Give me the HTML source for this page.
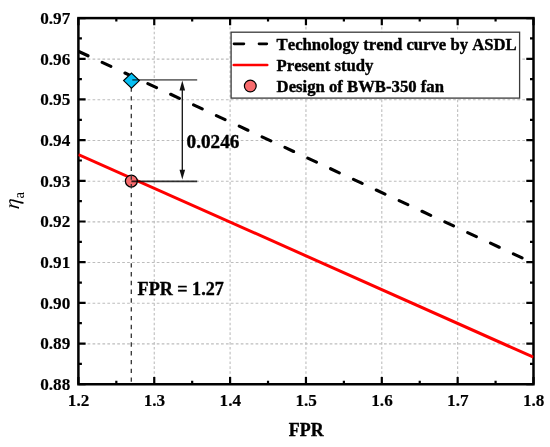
<!DOCTYPE html><html><head><meta charset="utf-8"><style>html,body{margin:0;padding:0;background:#fff;width:550px;height:447px;overflow:hidden}svg{display:block}</style></head><body><svg width="550" height="447" viewBox="0 0 550 447">
<rect width="550" height="447" fill="#fff"/>
<g stroke="#bdbdbd" stroke-width="1.1" stroke-dasharray="2.7 2.24" fill="none"><line x1="154.25" y1="18.10" x2="154.25" y2="384.25" stroke-dashoffset="1.0" stroke-dasharray="2.65 2.2"/><line x1="230.10" y1="18.10" x2="230.10" y2="384.25" stroke-dashoffset="1.0" stroke-dasharray="2.65 2.2"/><line x1="305.95" y1="18.10" x2="305.95" y2="384.25" stroke-dashoffset="1.0" stroke-dasharray="2.65 2.2"/><line x1="381.80" y1="18.10" x2="381.80" y2="384.25" stroke-dashoffset="1.0" stroke-dasharray="2.65 2.2"/><line x1="457.65" y1="18.10" x2="457.65" y2="384.25" stroke-dashoffset="1.0" stroke-dasharray="2.65 2.2"/><line x1="78.40" y1="59.13" x2="533.50" y2="59.13" stroke-dashoffset="0.68"/><line x1="78.40" y1="99.82" x2="533.50" y2="99.82" stroke-dashoffset="0.68"/><line x1="78.40" y1="140.50" x2="533.50" y2="140.50" stroke-dashoffset="0.68"/><line x1="78.40" y1="181.18" x2="533.50" y2="181.18" stroke-dashoffset="0.68"/><line x1="78.40" y1="221.87" x2="533.50" y2="221.87" stroke-dashoffset="0.68"/><line x1="78.40" y1="262.55" x2="533.50" y2="262.55" stroke-dashoffset="0.68"/><line x1="78.40" y1="303.23" x2="533.50" y2="303.23" stroke-dashoffset="0.68"/><line x1="78.40" y1="343.92" x2="533.50" y2="343.92" stroke-dashoffset="0.68"/></g>
<rect x="231.1" y="32.2" width="288.5" height="65.9" fill="#fff" stroke="#3a3a3a" stroke-width="1.3"/>
<line x1="234" y1="43.8" x2="266.8" y2="43.8" stroke="#000" stroke-width="2.7" stroke-dasharray="9.9 15.1" stroke-linecap="round"/>
<line x1="233.8" y1="65" x2="267.2" y2="65" stroke="#f00" stroke-width="2.7" stroke-linecap="round"/>
<circle cx="250.3" cy="86" r="5.9" fill="#f86b6d" stroke="#000" stroke-width="1.2"/>
<g style="font-family:'Liberation Serif','Times New Roman',serif;font-weight:bold;font-kerning:none;stroke:#000;stroke-width:0.4px;stroke-linejoin:round;font-size:16.7px" fill="#000">
<text x="276.6" y="50.1">Technology trend curve by ASDL</text>
<text x="276.6" y="71.0">Present study</text>
<text x="276.6" y="91.9">Design of BWB-350 fan</text>
</g>
<rect x="78.40" y="18.10" width="455.10" height="366.15" fill="none" stroke="#000" stroke-width="2.5"/>
<path d="M78.40 18.10v7.2M78.40 384.25v-7.2M116.33 18.10v3.5M116.33 384.25v-3.5M154.25 18.10v7.2M154.25 384.25v-7.2M192.18 18.10v3.5M192.18 384.25v-3.5M230.10 18.10v7.2M230.10 384.25v-7.2M268.03 18.10v3.5M268.03 384.25v-3.5M305.95 18.10v7.2M305.95 384.25v-7.2M343.88 18.10v3.5M343.88 384.25v-3.5M381.80 18.10v7.2M381.80 384.25v-7.2M419.73 18.10v3.5M419.73 384.25v-3.5M457.65 18.10v7.2M457.65 384.25v-7.2M495.58 18.10v3.5M495.58 384.25v-3.5M533.50 18.10v7.2M533.50 384.25v-7.2M78.40 18.10h7.2M533.50 18.10h-7.2M78.40 38.44h3.5M533.50 38.44h-3.5M78.40 58.78h7.2M533.50 58.78h-7.2M78.40 79.13h3.5M533.50 79.13h-3.5M78.40 99.47h7.2M533.50 99.47h-7.2M78.40 119.81h3.5M533.50 119.81h-3.5M78.40 140.15h7.2M533.50 140.15h-7.2M78.40 160.49h3.5M533.50 160.49h-3.5M78.40 180.83h7.2M533.50 180.83h-7.2M78.40 201.18h3.5M533.50 201.18h-3.5M78.40 221.52h7.2M533.50 221.52h-7.2M78.40 241.86h3.5M533.50 241.86h-3.5M78.40 262.20h7.2M533.50 262.20h-7.2M78.40 282.54h3.5M533.50 282.54h-3.5M78.40 302.88h7.2M533.50 302.88h-7.2M78.40 323.22h3.5M533.50 323.22h-3.5M78.40 343.57h7.2M533.50 343.57h-7.2M78.40 363.91h3.5M533.50 363.91h-3.5M78.40 384.25h7.2M533.50 384.25h-7.2" stroke="#000" stroke-width="2.2" fill="none"/>
<defs><clipPath id="c"><rect x="78.4" y="18.1" width="455.1" height="366.15"/></clipPath></defs>
<g clip-path="url(#c)">
<line x1="78.40" y1="51.3" x2="533.50" y2="263.2" stroke="#000" stroke-width="3.1" stroke-dasharray="9.6 15.6" stroke-dashoffset="-1" stroke-linecap="round"/>
<line x1="78.40" y1="154.5" x2="533.50" y2="357.2" stroke="#f00" stroke-width="3.0"/>
</g>
<circle cx="131.35" cy="181.05" r="5.95" fill="#f86b6d" stroke="#000" stroke-width="1.25"/>
<line x1="131.3" y1="87.4" x2="131.3" y2="383" stroke="#333" stroke-width="1.3" stroke-dasharray="4.4 4.39"/>
<path d="M131.5 73.1 L139.4 80.6 L131.5 88.2 L123.6 80.6 Z" fill="#06bff3" stroke="#000" stroke-width="1.15"/>
<line x1="132.3" y1="79.9" x2="197.2" y2="79.9" stroke="#000" stroke-opacity="0.56" stroke-width="1.7"/>
<line x1="131.4" y1="181.4" x2="197.2" y2="181.4" stroke="#000" stroke-opacity="0.8" stroke-width="1.6"/>
<line x1="182.3" y1="88" x2="182.3" y2="172" stroke="#111" stroke-width="1.3"/>
<path d="M182.3 80.6 L185.1 90.5 L179.5 90.5 Z" fill="#111"/>
<path d="M182.3 179.6 L185.1 169.7 L179.5 169.7 Z" fill="#111"/>
<g style="font-family:'Liberation Serif','Times New Roman',serif;font-weight:bold;font-kerning:none;stroke:#000;stroke-width:0.4px;stroke-linejoin:round;font-size:17.2px;stroke-width:0.15px" fill="#000">
<text transform="translate(78.60 406.1) scale(1 1.03)" text-anchor="middle">1.2</text>
<text transform="translate(154.45 406.1) scale(1 1.03)" text-anchor="middle">1.3</text>
<text transform="translate(230.30 406.1) scale(1 1.03)" text-anchor="middle">1.4</text>
<text transform="translate(306.15 406.1) scale(1 1.03)" text-anchor="middle">1.5</text>
<text transform="translate(382.00 406.1) scale(1 1.03)" text-anchor="middle">1.6</text>
<text transform="translate(457.85 406.1) scale(1 1.03)" text-anchor="middle">1.7</text>
<text transform="translate(533.70 406.1) scale(1 1.03)" text-anchor="middle">1.8</text>
<text transform="translate(70.3 23.85) scale(1 1.03)" text-anchor="end">0.97</text>
<text transform="translate(70.3 64.53) scale(1 1.03)" text-anchor="end">0.96</text>
<text transform="translate(70.3 105.22) scale(1 1.03)" text-anchor="end">0.95</text>
<text transform="translate(70.3 145.90) scale(1 1.03)" text-anchor="end">0.94</text>
<text transform="translate(70.3 186.58) scale(1 1.03)" text-anchor="end">0.93</text>
<text transform="translate(70.3 227.27) scale(1 1.03)" text-anchor="end">0.92</text>
<text transform="translate(70.3 267.95) scale(1 1.03)" text-anchor="end">0.91</text>
<text transform="translate(70.3 308.63) scale(1 1.03)" text-anchor="end">0.90</text>
<text transform="translate(70.3 349.32) scale(1 1.03)" text-anchor="end">0.89</text>
<text transform="translate(70.3 390.00) scale(1 1.03)" text-anchor="end">0.88</text>
</g>
<text x="186.6" y="147.6" style="font-family:'Liberation Serif','Times New Roman',serif;font-weight:bold;font-kerning:none;stroke:#000;stroke-width:0.4px;stroke-linejoin:round;font-size:19.2px">0.0246</text>
<text x="137.6" y="294.5" style="font-family:'Liberation Serif','Times New Roman',serif;font-weight:bold;font-kerning:none;stroke:#000;stroke-width:0.4px;stroke-linejoin:round;font-size:18.1px">FPR = 1.27</text>
<text x="288.8" y="436.4" style="font-family:'Liberation Serif','Times New Roman',serif;font-weight:bold;font-kerning:none;stroke:#000;stroke-width:0.4px;stroke-linejoin:round;font-size:17.9px">FPR</text>
<g transform="translate(18.6 209.5) rotate(-90)"><text x="0" y="0" transform="skewX(-6)" style="font-family:'Liberation Serif',serif;font-style:italic;font-size:21px">η</text><text x="10.9" y="5.6" style="font-family:'Liberation Serif',serif;font-size:15px">a</text></g>
</svg></body></html>
